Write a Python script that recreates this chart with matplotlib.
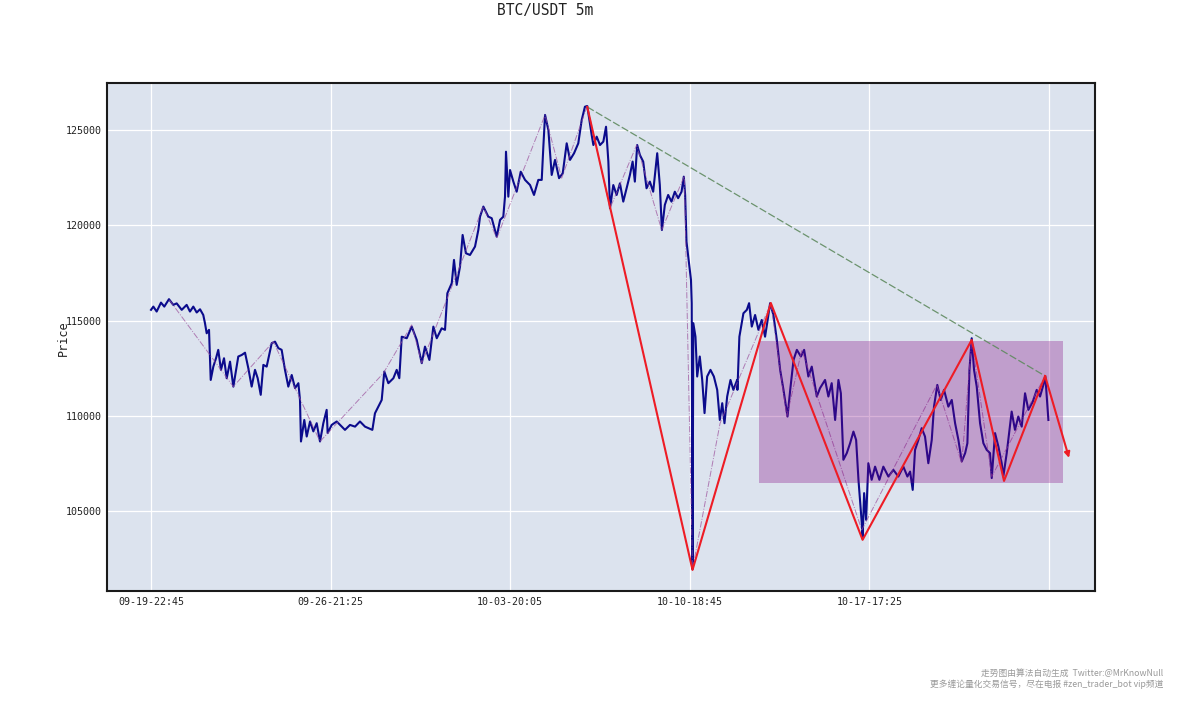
import matplotlib
matplotlib.use("Agg")
import matplotlib.pyplot as plt
from matplotlib.patches import Rectangle

# ---- data (bar index of 5m candles, close price) ----
price_idx = [
    0, 26, 63, 111, 148, 200, 248, 286, 342, 397, 434, 471, 509, 546, 582, 601, 620, 646, 665, 694,
    724, 749, 779, 813, 843, 880, 917, 972, 1010, 1047, 1084, 1121, 1158, 1188, 1222, 1251, 1288,
    1344, 1381, 1418, 1455, 1492, 1529, 1567, 1604, 1641, 1659, 1670, 1707, 1734, 1771, 1808, 1845,
    1882, 1919, 1956, 1967, 2012, 2068, 2124, 2160, 2216, 2272, 2327, 2383, 2465, 2494, 2532, 2569,
    2598, 2643, 2699, 2736, 2765, 2792, 2848, 2903, 2959, 3015, 3051, 3100, 3144, 3182, 3237, 3274,
    3300, 3349, 3374, 3404, 3441, 3470, 3507, 3552, 3608, 3645, 3664, 3701, 3756, 3794, 3850, 3887,
    3923, 3942, 3953, 3979, 3998, 4035, 4072, 4117, 4165, 4221, 4265, 4313, 4351, 4369, 4388, 4425,
    4462, 4499, 4544, 4585, 4629, 4666, 4711, 4758, 4796, 4832, 4858, 4907, 4926, 4963, 5000, 5037,
    5067, 5093, 5111, 5148, 5185, 5222, 5259, 5296, 5333, 5363, 5388, 5414, 5444, 5481, 5518, 5555,
    5592, 5637, 5666, 5689, 5722, 5759, 5796, 5833, 5870, 5908, 5933, 5948, 5963, 6013, 6021, 6030,
    6039, 6063, 6082, 6111, 6138, 6164, 6193, 6230, 6268, 6305, 6334, 6361, 6386, 6416, 6453, 6485,
    6527, 6530, 6552, 6597, 6635, 6660, 6690, 6727, 6764, 6801, 6838, 6864, 6894, 6931, 6969, 7006,
    7043, 7088, 7118, 7155, 7192, 7237, 7273, 7320, 7358, 7414, 7450, 7506, 7543, 7580, 7618, 7655,
    7682, 7710, 7748, 7785, 7822, 7852, 7878, 7915, 7924, 7941, 7963, 7988, 8025, 8063, 8111, 8155,
    8211, 8267, 8322, 8378, 8423, 8453, 8482, 8508, 8545, 8582, 8619, 8656, 8694, 8719, 8756, 8794,
    8831, 8879, 8917, 8954, 8991, 9028, 9066, 9091, 9114, 9139, 9165, 9195, 9232, 9269, 9306, 9343,
    9362, 9399, 9436, 9473, 9491, 9529, 9584, 9621, 9658, 9696, 9733, 9770, 9819, 9863, 9900, 9937,
    9959, 9975, 9993]
price_val = [
    115560, 115730, 115470, 115940, 115730, 116120, 115820, 115900, 115560, 115820, 115470, 115730,
    115420, 115590, 115290, 114860, 114330, 114510, 111880, 112580, 113020, 113460, 112410, 113020,
    111970, 112840, 111530, 113110, 113190, 113310, 112490, 111530, 112410, 111970, 111100, 112670,
    112580, 113810, 113890, 113550, 113460, 112410, 111530, 112140, 111450, 111710, 110830, 108650,
    109780, 108910, 109700, 109180, 109610, 108650, 109610, 110310, 109090, 109520, 109700, 109430,
    109260, 109520, 109430, 109700, 109430, 109260, 110130, 110480, 110830, 112320, 111710, 111970,
    112410, 111970, 114150, 114070, 114680, 113980, 112760, 113630, 112930, 114680, 114070, 114590,
    114510, 116430, 116960, 118180, 116870, 117830, 119490, 118530, 118440, 118880, 119750, 120450,
    120980, 120450, 120370, 119400, 120280, 120450, 121500, 123860, 121500, 122900, 122290, 121760,
    122810, 122380, 122110, 121590, 122380, 122380, 124120, 125790, 125000, 122640, 123430, 122470,
    122730, 124300, 123430, 123780, 124300, 125520, 126220, 126260, 124740, 124210, 124650, 124210,
    124390, 125170, 123340, 120890, 122110, 121590, 122200, 121240, 121940, 122640, 123340, 122290,
    124210, 123690, 123340, 121940, 122290, 121760, 123780, 122110, 119750, 121070, 121590, 121240,
    121760, 121420, 121760, 122550, 121590, 119140, 117130, 115910, 101950, 114860, 114150, 112060,
    113110, 111880, 110140, 112060, 112410, 112060, 111360, 109780, 110660, 109610, 111010, 111880,
    111360, 111880, 111360, 114150, 115380, 115560, 115910, 114680, 115290, 114510, 115030, 114150,
    114940, 115910, 115290, 113980, 112410, 111360, 109960, 111360, 112930, 113460, 113110, 113460,
    112060, 112580, 111010, 111450, 111880, 111010, 111710, 109780, 111880, 111180, 107690, 108040,
    108560, 109170, 108730, 106640, 104360, 103550, 105940, 104540, 107510, 106640, 107330, 106640,
    107330, 106810, 107160, 106810, 107330, 106810, 107070, 106110, 108210, 108730, 109350, 108910,
    107510, 108730, 110480, 111620, 110830, 111360, 110480, 110830, 109610, 108730, 107600, 108040,
    108560, 112410, 114070, 112410, 111530, 109610, 108560, 108210, 108040, 106730, 109090, 108390,
    107510, 106810, 108040, 110220, 109260, 109960, 109430, 111180, 110310, 110740, 111360, 111010,
    111620, 112060, 111010, 109780]

# small-level strokes (bi)
bi_idx = [204, 917, 1362, 1882, 2587, 2903, 3015, 3700, 3850, 4388, 4573, 4858, 5111, 5408,
          5687, 5939, 6030, 6337, 6902, 7080, 7247, 7915, 8750, 9028, 9139, 9362, 9956]
bi_val = [116080, 111530, 113890, 108650, 112230, 114770, 112760, 120980, 119320, 125790,
          122470, 126260, 120890, 124210, 119750, 122590, 101950, 109610, 115910, 109960,
          113460, 104010, 111620, 107510, 113980, 106810, 112090]

# segment-level zigzag (red)
seg_idx = [4858, 6030, 6902, 7924, 9139, 9499, 9956]
seg_val = [126210, 101910, 115920, 103490, 113980, 106580, 112090]
arrow_end_idx = 10223
arrow_end_val = 107790

# trend line (green dashed)
trend_idx = [4858, 9956]
trend_val = [126210, 112090]

# range box
box_x0, box_x1 = 6771, 10156
box_y0, box_y1 = 106480, 113930

xtick_pos = [0, 2000, 4000, 6000, 8000, 10000]
xtick_lab = ["09-19-22:45", "09-26-21:25", "10-03-20:05", "10-10-18:45", "10-17-17:25", ""]
ytick_pos = [105000, 110000, 115000, 120000, 125000]

# ---- figure ----
fig = plt.figure(figsize=(12, 7.12), dpi=100)
ax = fig.add_axes([107 / 1200, 1 - 591 / 712, (1095 - 107) / 1200, (591 - 83) / 712])
ax.set_facecolor("#dce3ee")

ax.plot(price_idx, price_val, color="#0b0b8c", lw=1.5, zorder=3)
ax.plot(bi_idx, bi_val, color="#9b4f9b", lw=0.7, ls="-.", alpha=0.7, zorder=3.5)
ax.add_patch(Rectangle((box_x0, box_y0), box_x1 - box_x0, box_y1 - box_y0,
                       facecolor="purple", alpha=0.3, edgecolor="none", zorder=4))
ax.plot(trend_idx, trend_val, color="#5f8a5f", lw=0.9, ls=(0, (6, 2)), alpha=0.9, zorder=4.5)
ax.plot(seg_idx, seg_val, color="#ee1c25", lw=1.5, zorder=5)
ax.annotate("", xy=(arrow_end_idx, arrow_end_val), xytext=(seg_idx[-1], seg_val[-1]),
            arrowprops=dict(arrowstyle="-|>", color="#ee1c25", lw=1.5,
                            mutation_scale=8, shrinkA=0, shrinkB=0), zorder=5)

ax.set_xlim(-490, 10512)
ax.set_ylim(100803, 127466)
ax.set_xticks(xtick_pos)
ax.set_xticklabels(xtick_lab)
ax.set_yticks(ytick_pos)
ax.set_yticklabels([str(v) for v in ytick_pos])
ax.grid(True, color="white", lw=0.9, zorder=1)
ax.set_axisbelow(True)
ax.tick_params(axis="both", length=0, pad=4, labelsize=7.2, labelcolor="#222222")
for lab in ax.get_xticklabels() + ax.get_yticklabels():
    lab.set_family("DejaVu Sans Mono")
for sp in ax.spines.values():
    sp.set_color("#1a1a1a")
    sp.set_linewidth(1.5)

fig.text(545 / 1200, 1 - 11 / 712, "BTC/USDT 5m", ha="center", va="center",
         fontsize=10.5, family="DejaVu Sans Mono", color="#222222")
fig.text(63 / 1200, 1 - 338 / 712, "Price", ha="center", va="center", rotation=90,
         fontsize=8.5, family="DejaVu Sans Mono", color="#222222")

wm_font = ["Noto Sans CJK SC", "DejaVu Sans"]
fig.text(1163 / 1200, 1 - 673 / 712, "走势图由算法自动生成  Twitter:@MrKnowNull",
         ha="right", va="center", fontsize=6.3, family=wm_font, color="#9a9a9a")
fig.text(1163 / 1200, 1 - 684 / 712, "更多缠论量化交易信号，尽在电报 #zen_trader_bot vip频道",
         ha="right", va="center", fontsize=6.3, family=wm_font, color="#9a9a9a")

fig.savefig("out.png", dpi=100)
